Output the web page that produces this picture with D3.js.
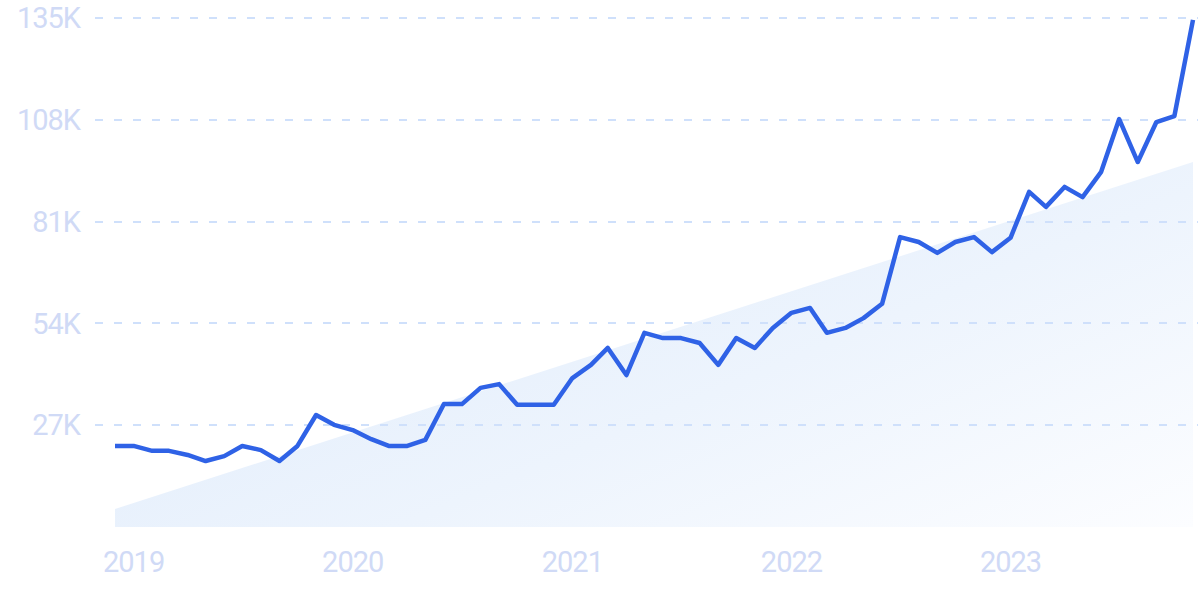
<!DOCTYPE html>
<html><head><meta charset="utf-8">
<script src="https://cdn.jsdelivr.net/npm/d3@7"></script>
<style>html,body{margin:0;padding:0;background:#fff;}svg{display:block;}</style>
</head><body><svg id="c" width="1200" height="599"></svg>
<script>
const startMonth = "2018-12";
const values = [21.5,21.5,20.2,20.2,19.1,17.5,18.8,21.5,20.4,17.5,
  21.5,29.7,27.1,25.7,23.3,21.5,21.5,23.1,32.6,32.6,
  36.9,37.9,32.4,32.4,32.4,39.5,43.0,47.5,40.3,51.5,
  50.1,50.1,48.8,43.0,50.1,47.5,52.8,56.8,58.1,51.5,
  52.8,55.4,59.2,76.9,75.6,72.7,75.6,76.9,72.9,76.7,
  88.9,84.9,90.2,87.5,94.2,108.2,96.8,107.4,109.0,134.5];
const trendValues = [4.8, 96.8];
const yTicks = [27,54,81,108,135];
const xTickYears = [2019,2020,2021,2022,2023];

const parse = d3.timeParse("%Y-%m");
const t0 = parse(startMonth);
const dates = values.map((v,i)=>d3.timeMonth.offset(t0,i));
const data = values.map((v,i)=>({d:dates[i],v}));

const svg = d3.select("#c");
const x = d3.scaleTime().domain([dates[0], dates[dates.length-1]]).range([115,1193]);
const y = d3.scaleLinear().domain([0,135]).range([527,18]);

const defs = svg.append("defs");
const g = defs.append("linearGradient").attr("id","ag").attr("x1","0").attr("y1","0.2").attr("x2","1").attr("y2","1");
g.append("stop").attr("offset","0%").attr("stop-color","#dfebfb");
g.append("stop").attr("offset","55%").attr("stop-color","#edf4fd");
g.append("stop").attr("offset","100%").attr("stop-color","#fcfdff");

// trend area
const trend = [{d:dates[0],v:trendValues[0]},{d:dates[dates.length-1],v:trendValues[1]}];
svg.append("path").datum(trend)
  .attr("d", d3.area().x(d=>x(d.d)).y0(y(0)).y1(d=>y(d.v)))
  .attr("fill","url(#ag)");

// grid
svg.append("g").selectAll("line").data(yTicks).join("line")
  .attr("x1",95).attr("x2",1198)
  .attr("y1",d=>Math.round(y(d))).attr("y2",d=>Math.round(y(d)))
  .attr("stroke","#cfe0fb").attr("stroke-width",2).attr("stroke-dasharray","8 11");

// line
svg.append("path").datum(data)
  .attr("d", d3.line().x(d=>x(d.d)).y(d=>y(d.v)))
  .attr("fill","none").attr("stroke","#2f62e6").attr("stroke-width",4.5)
  .attr("stroke-linejoin","round").attr("stroke-linecap","butt");

// y labels
svg.append("g").selectAll("text").data(yTicks).join("text")
  .attr("x",80).attr("y",d=>y(d)).attr("dy","0.35em")
  .attr("text-anchor","end")
  .attr("font-family","Roboto, 'Liberation Sans', sans-serif")
  .attr("font-size",29).attr("letter-spacing","-1")
  .attr("fill","#d0daf6")
  .text(d=>d+"K");

// x labels
svg.append("g").selectAll("text").data(xTickYears).join("text")
  .attr("x",d=>x(new Date(d,0,1))).attr("y",562).attr("dy","0.35em")
  .attr("text-anchor","middle")
  .attr("font-family","Roboto, 'Liberation Sans', sans-serif")
  .attr("font-size",29).attr("letter-spacing","-1")
  .attr("fill","#d0daf6")
  .text(d=>d);
</script></body></html>
